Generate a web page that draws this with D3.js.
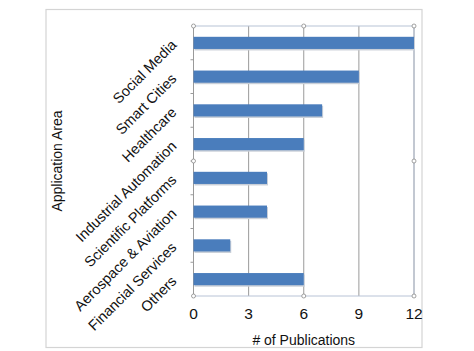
<!DOCTYPE html>
<html>
<head>
<meta charset="utf-8">
<script src="https://cdn.jsdelivr.net/npm/d3@7"></script>
<style>
  body { margin: 0; background: #fff; }
  svg text { font-family: "Liberation Sans", Arial, sans-serif; fill: #111; }
</style>
</head>
<body>
<div id="chart"></div>
<script>
const categories = ["Social Media", "Smart Cities", "Healthcare", "Industrial Automation",
  "Scientific Platforms", "Aerospace & Aviation", "Financial Services", "Others"];
const publications = [12, 9, 7, 6, 4, 4, 2, 6];
const xTicks = [0, 3, 6, 9, 12];

const W = 474, H = 351;
const plot = { left: 193.5, right: 414, top: 26, bottom: 296 };

const svg = d3.select("#chart").append("svg")
  .attr("width", W)
  .attr("height", H);

// outer frame
svg.append("rect")
  .attr("x", 46).attr("y", 9.5)
  .attr("width", 376).attr("height", 338)
  .attr("fill", "none")
  .attr("stroke", "#d4d4d4")
  .attr("stroke-width", 1.2);

const x = d3.scaleLinear().domain([0, 12]).range([plot.left, plot.right]);
const y = d3.scaleBand().domain(categories).range([plot.top, plot.bottom]).paddingInner(0.64).paddingOuter(0.32);

// gridlines
svg.append("g")
  .selectAll("line")
  .data(xTicks.filter(d => d > 0))
  .join("line")
  .attr("x1", d => x(d)).attr("x2", d => x(d))
  .attr("y1", plot.top).attr("y2", plot.bottom)
  .attr("stroke", "#9a9a9a")
  .attr("stroke-width", 1);

// plot frame (selection outline)
svg.append("rect")
  .attr("x", plot.left).attr("y", plot.top)
  .attr("width", plot.right - plot.left).attr("height", plot.bottom - plot.top)
  .attr("fill", "none")
  .attr("stroke", "#b8c3d6")
  .attr("stroke-width", 1);

// left axis line + minor ticks between categories
svg.append("line")
  .attr("x1", plot.left).attr("x2", plot.left)
  .attr("y1", plot.top).attr("y2", plot.bottom)
  .attr("stroke", "#9a9a9a");

svg.append("g")
  .selectAll("line")
  .data(d3.range(1, categories.length))
  .join("line")
  .attr("x1", plot.left - 3).attr("x2", plot.left)
  .attr("y1", i => plot.top + i * (plot.bottom - plot.top) / categories.length)
  .attr("y2", i => plot.top + i * (plot.bottom - plot.top) / categories.length)
  .attr("stroke", "#9a9a9a");

// bar shadow
svg.append("g")
  .selectAll("rect")
  .data(publications)
  .join("rect")
  .attr("x", x(0) + 1)
  .attr("y", (d, i) => y(categories[i]) + 1.5)
  .attr("width", d => x(d) - x(0))
  .attr("height", y.bandwidth())
  .attr("fill", "#c9cfd8");

// bars
svg.append("g")
  .selectAll("rect")
  .data(publications)
  .join("rect")
  .attr("x", x(0))
  .attr("y", (d, i) => y(categories[i]))
  .attr("width", d => x(d) - x(0))
  .attr("height", y.bandwidth())
  .attr("fill", "#4a7dbc");

// selection handles
const handles = [
  [plot.left, plot.top], [(plot.left + plot.right) / 2, plot.top], [plot.right, plot.top],
  [plot.left, (plot.top + plot.bottom) / 2], [plot.right, (plot.top + plot.bottom) / 2],
  [plot.left, plot.bottom], [(plot.left + plot.right) / 2, plot.bottom], [plot.right, plot.bottom]
];
svg.append("g")
  .selectAll("circle")
  .data(handles)
  .join("circle")
  .attr("cx", d => d[0]).attr("cy", d => d[1])
  .attr("r", 2)
  .attr("fill", "#fff")
  .attr("stroke", "#8a8a8a")
  .attr("stroke-width", 0.8);

// x tick labels
svg.append("g")
  .selectAll("text")
  .data(xTicks)
  .join("text")
  .attr("x", d => x(d))
  .attr("y", 319)
  .attr("text-anchor", "middle")
  .style("font-size", "15.5px")
  .text(d => d);

// category labels, rotated
svg.append("g")
  .selectAll("text")
  .data(categories)
  .join("text")
  .attr("transform", d => `translate(${plot.left - 16},${y(d) + y.bandwidth() / 2 + 3}) rotate(-45)`)
  .attr("text-anchor", "end")
  .style("font-size", "14.5px")
  .text(d => d);

// axis titles
svg.append("text")
  .attr("x", (plot.left + plot.right) / 2)
  .attr("y", 345)
  .attr("text-anchor", "middle")
  .style("font-size", "14px")
  .text("# of Publications");

svg.append("text")
  .attr("transform", `translate(62,${(plot.top + plot.bottom) / 2}) rotate(-90)`)
  .attr("text-anchor", "middle")
  .style("font-size", "14px")
  .text("Application Area");
</script>
</body>
</html>
